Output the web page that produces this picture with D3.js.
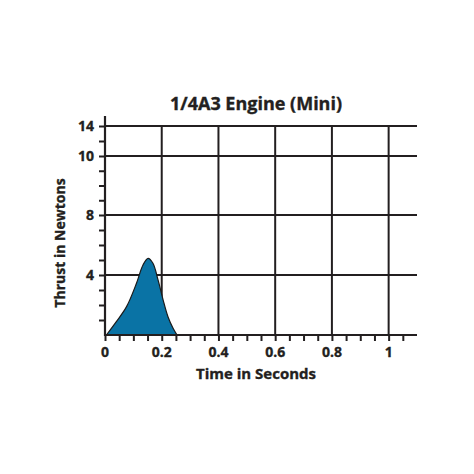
<!DOCTYPE html>
<html>
<head>
<meta charset="utf-8">
<script src="https://cdn.jsdelivr.net/npm/d3@7"></script>
<style>
  body { margin: 0; background: #fff; }
  text { font-family: "Open Sans", sans-serif; font-weight: 700; fill: #231f20; stroke: #231f20; stroke-width: 0.35; }
</style>
</head>
<body>
<svg id="chart"></svg>
<script>
// thrust curve (seconds, newtons)
const times = [0.005, 0.040, 0.076, 0.111, 0.134, 0.152, 0.169, 0.187, 0.205, 0.222, 0.240, 0.254];
const thrust = [0, 0.89, 1.89, 3.45, 4.67, 5.11, 4.78, 3.67, 2.33, 1.22, 0.45, 0];

const xMajor = [0, 0.2, 0.4, 0.6, 0.8, 1];
const xMinor = [0.05, 0.1, 0.15, 0.25, 0.3, 0.35, 0.45, 0.5, 0.55, 0.65, 0.7, 0.75, 0.85, 0.9, 0.95, 1.05];
// the printed y axis is not linear: 0-4, 4-8, 8-10 each take a full band, 10-14 a half band
const yBreaks = [0, 4, 8, 10, 14];
const yMajor = [4, 8, 10, 14];
const yMinor = [1, 2, 3, 5, 6, 7, 8.5, 9, 9.5, 12];

const W = 474, H = 474;
const svg = d3.select("#chart").attr("width", W).attr("height", H);

const x = d3.scaleLinear().domain([0, 1.1]).range([105, 417]);
const y = d3.scaleLinear().domain(yBreaks).range([335, 275, 215, 156, 126]);

// title
svg.append("text")
  .attr("x", 256).attr("y", 110)
  .attr("text-anchor", "middle")
  .attr("font-size", 18)
  .text("1/4A3 Engine (Mini)");

// grid
const grid = svg.append("g").attr("stroke", "#231f20").attr("stroke-width", 2);
grid.selectAll("line.h").data(yMajor).join("line")
  .attr("x1", x(0)).attr("x2", x(1.1))
  .attr("y1", (d) => y(d)).attr("y2", (d) => y(d));
grid.selectAll("line.v").data(xMajor.slice(1)).join("line")
  .attr("x1", (d) => x(d)).attr("x2", (d) => x(d))
  .attr("y1", y(14)).attr("y2", y(0));

// thrust area
const pts = times.map((t, i) => [t, thrust[i]]);
const area = d3.area()
  .x((d) => x(d[0]))
  .y0(y(0))
  .y1((d) => y(d[1]))
  .curve(d3.curveCatmullRom);
svg.append("path")
  .datum(pts)
  .attr("d", area)
  .attr("fill", "#0a73a5")
  .attr("stroke", "#1a1a1a")
  .attr("stroke-width", 1.2);

// x axis
const gx = svg.append("g").attr("transform", `translate(0,${y(0)})`);
gx.call(d3.axisBottom(x).tickValues(xMajor.concat(xMinor)).tickSize(6).tickFormat(""));
gx.select(".domain").remove();
gx.selectAll(".tick line").attr("stroke", "#231f20").attr("stroke-width", 2);
gx.append("line")
  .attr("x1", x(0) - 1).attr("x2", x(1.1))
  .attr("stroke", "#231f20").attr("stroke-width", 2.2);
gx.selectAll("text.lab").data(xMajor).join("text")
  .attr("x", (d) => x(d)).attr("y", 22)
  .attr("text-anchor", "middle")
  .attr("font-size", 14)
  .text((d) => d3.format("")(d));

// y axis
const gy = svg.append("g").attr("transform", `translate(${x(0)},0)`);
gy.call(d3.axisLeft(y).tickValues(yMajor.concat(yMinor)).tickSize(6).tickFormat(""));
gy.select(".domain").remove();
gy.selectAll(".tick line").attr("stroke", "#231f20").attr("stroke-width", 2);
gy.append("line")
  .attr("y1", y(0) + 1).attr("y2", y(14) - 10)
  .attr("stroke", "#231f20").attr("stroke-width", 2.2);
gy.selectAll("text.lab").data(yMajor).join("text")
  .attr("x", -11).attr("y", (d) => y(d) + 5)
  .attr("text-anchor", "end")
  .attr("font-size", 14)
  .text((d) => d);

// axis titles
svg.append("text")
  .attr("x", 256).attr("y", 379)
  .attr("text-anchor", "middle")
  .attr("font-size", 15)
  .text("Time in Seconds");
svg.append("text")
  .attr("transform", "translate(65,243) rotate(-90)")
  .attr("text-anchor", "middle")
  .attr("font-size", 14)
  .text("Thrust in Newtons");
</script>
</body>
</html>
